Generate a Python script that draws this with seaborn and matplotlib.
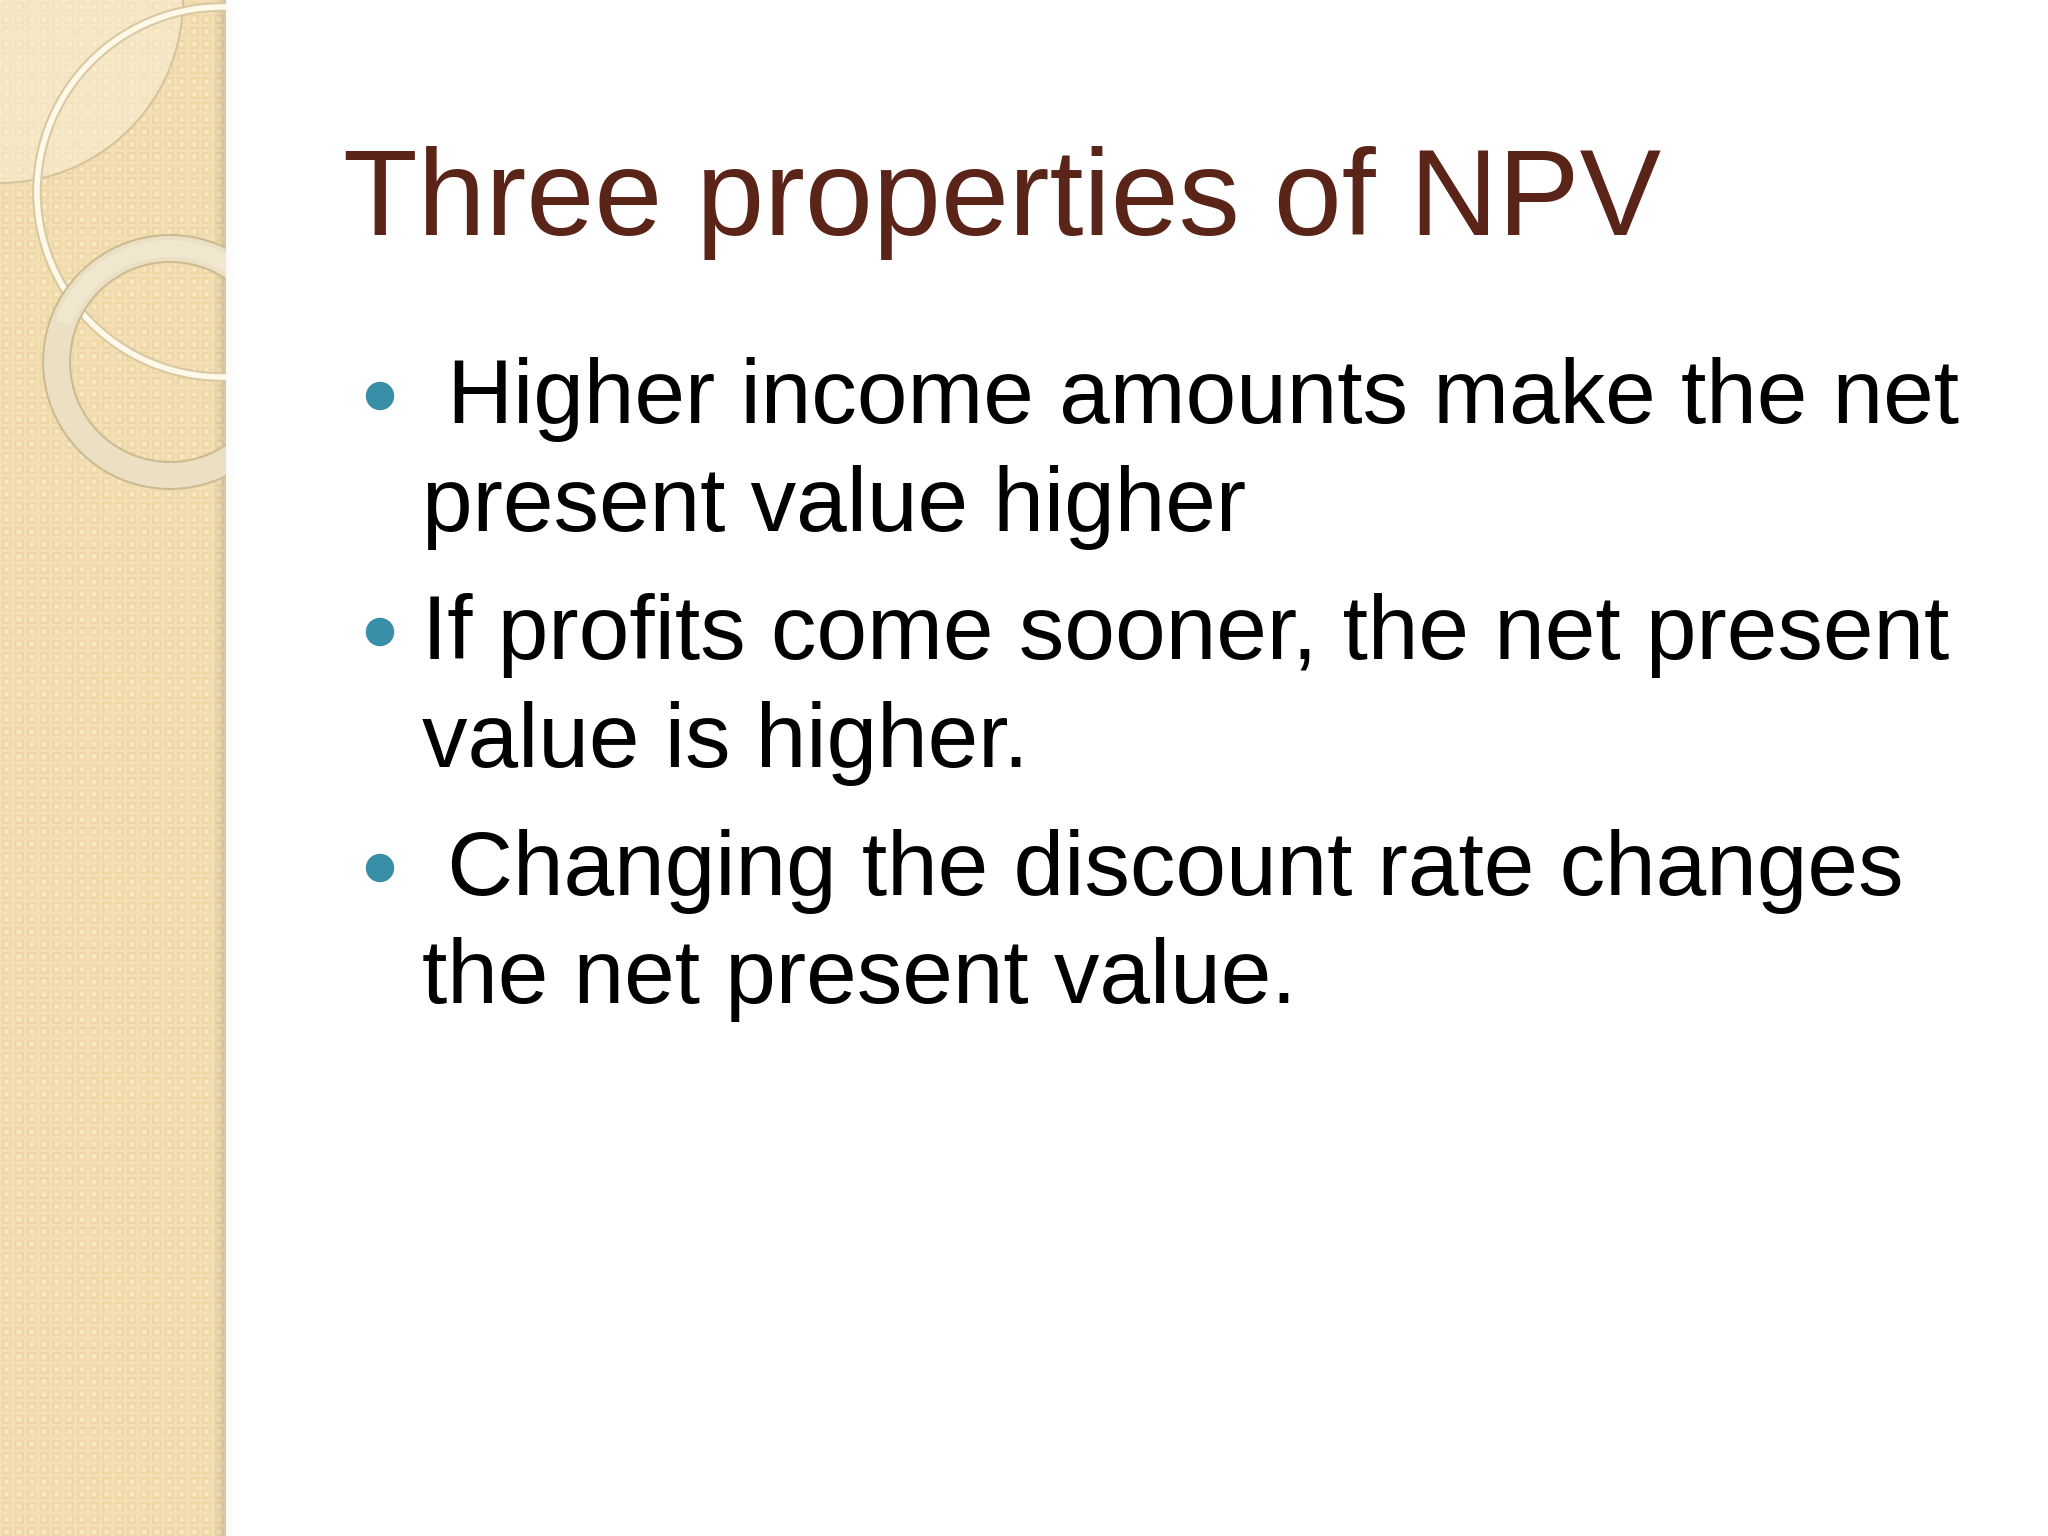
import numpy as np
import matplotlib
matplotlib.use("Agg")
import matplotlib.pyplot as plt
import matplotlib.patches as mpatches
import seaborn as sns

# SLIDE CONTENT

title = "Three properties of NPV"
bullet_items = [
    [" Higher income amounts make the net", "present value higher"],
    ["If profits come sooner, the net present", "value is higher."],
    [" Changing the discount rate changes", "the net present value."],
]

title_color = "#5A2418"
text_color = "#000000"
bullet_color = "#3A8FA8"

# LAYOUT (pixels on a 2048 x 1536 canvas)

W, H = 2048, 1536
strip_w = 226
title_x, title_base = 343, 235
text_x = 422
first_base = 423
line_gap = 108
para_gap = 128
bullet_x = 380
bullet_rise = 27

sns.set_theme(style="white")
plt.rcParams["font.family"] = ["Liberation Sans", "DejaVu Sans"]

fig = plt.figure(figsize=(W / 100, H / 100), dpi=100)
fig.patch.set_facecolor("white")
ax = fig.add_axes([0, 0, 1, 1])
ax.set_xlim(0, W)
ax.set_ylim(H, 0)
ax.axis("off")

# BEIGE SIDE STRIP WITH SMALL SQUARE PATTERN

yy, xx = np.mgrid[0:H, 0:strip_w].astype(float)
P = 12.5
u = (xx % P) / P - 0.5
v = (yy % P) / P - 0.5
d = np.maximum(np.abs(u), np.abs(v))
base = np.array([243, 223, 178]) / 255.0
dark = np.array([236, 214, 166]) / 255.0
light = np.array([248, 234, 200]) / 255.0
img = np.ones((H, strip_w, 3)) * base
ring_mask = (d > 0.22) & (d < 0.36)
img[ring_mask] = dark
img[d < 0.1] = light
cheq = ((np.floor(xx / P) + np.floor(yy / P)) % 2 == 0)
img[cheq & (d >= 0.36)] = img[cheq & (d >= 0.36)] * 0.98 + 0.02

# light quarter disc at the top-left
qd = np.sqrt(xx ** 2 + yy ** 2) < 183
img[qd] = img[qd] * 0.55 + np.array([250, 242, 222]) / 255.0 * 0.45

# shadow along the right edge
shade = np.clip((xx - (strip_w - 14)) / 14.0, 0, 1)
img = img * (1 - 0.12 * shade[..., None])

ax.imshow(img, extent=(0, strip_w, H, 0), interpolation="bilinear", zorder=0)

clip_rect = mpatches.Rectangle((0, 0), strip_w, H, transform=ax.transData)

# quarter disc outline
arc = mpatches.Arc((0, 0), 366, 366, theta1=0, theta2=90, color="#D6C39B", lw=1.5, zorder=1)
ax.add_patch(arc)
arc.set_clip_path(clip_rect)

# large thin circle
for lw, col in [(7, "#D9C8A2"), (4, "#FFF9EA")]:
    c = mpatches.Circle((222, 192), 185, fill=False, ec=col, lw=lw, zorder=2)
    ax.add_patch(c)
    c.set_clip_path(clip_rect)

# ring
ring = mpatches.Wedge((170, 362), 127, 0, 360, width=27, fc="#EBE0C4", ec="#CDBB92", lw=1.5, zorder=3)
ax.add_patch(ring)
ring.set_clip_path(clip_rect)
ring_hi = mpatches.Wedge((170, 362), 122, 200, 330, width=17, fc="#F4ECD8", ec="none", alpha=0.6, zorder=3)
ax.add_patch(ring_hi)
ring_hi.set_clip_path(clip_rect)

# soft shadow into the white area
for i in range(10):
    ax.axvspan(strip_w + i, strip_w + i + 1, color="#C8B58E", alpha=0.05 * (1 - i / 10), lw=0, zorder=1)

# TITLE

ax.text(title_x, title_base, title, color=title_color, fontsize=88,
        ha="left", va="baseline", zorder=5)

# BULLET TEXT

bx, by = [], []
y = first_base
for item in bullet_items:
    bx.append(bullet_x)
    by.append(y - bullet_rise)
    for j, line in enumerate(item):
        ax.text(text_x, y, line, color=text_color, fontsize=65.5,
                ha="left", va="baseline", zorder=5)
        if j < len(item) - 1:
            y += line_gap
    y += para_gap

sns.scatterplot(x=bx, y=by, s=420, color=bullet_color, edgecolor="none",
                legend=False, ax=ax, zorder=6)
ax.set_xlim(0, W)
ax.set_ylim(H, 0)
ax.axis("off")

fig.savefig("out.png", dpi=100, facecolor="white")
